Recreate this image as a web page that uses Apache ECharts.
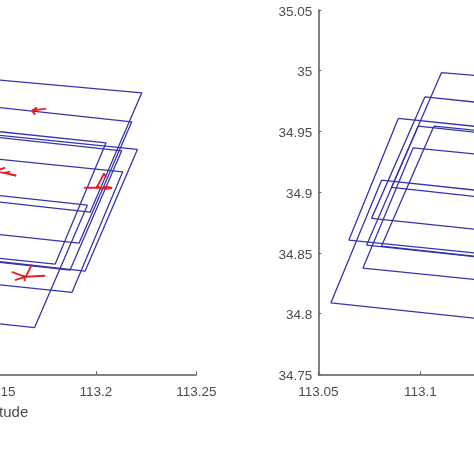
<!DOCTYPE html>
<html>
<head>
<meta charset="utf-8">
<title>frames</title>
<style>
  html, body { margin: 0; padding: 0; background: #fff; }
  #main { width: 474px; height: 474px; }
</style>
<script src="https://cdn.jsdelivr.net/npm/echarts@6/dist/echarts.min.js"></script>
</head>
<body>
<div id="main"></div>
<script>
// frame outlines, [lon, lat], corners in order TL, TR, BR, BL
var frameA = [[113.1104, 34.9985], [113.2229, 34.9818], [113.1972, 34.8836], [113.0859, 34.9039]];
var frameB = [[113.1023, 34.9785], [113.2179, 34.9579], [113.1917, 34.8581], [113.0761, 34.8784]];
var frameC = [[113.0892, 34.9607], [113.2051, 34.9406], [113.1798, 34.8408], [113.0650, 34.8605]];
var frameD = [[113.0990, 34.9544], [113.2129, 34.9340], [113.1872, 34.8358], [113.0737, 34.8564]];
var frameE = [[113.1067, 34.9544], [113.2207, 34.9352], [113.1947, 34.8350], [113.0810, 34.8556]];
var frameF = [[113.0965, 34.9365], [113.2134, 34.9167], [113.1882, 34.8175], [113.0719, 34.8375]];
var frameG = [[113.0810, 34.9099], [113.1958, 34.8893], [113.1695, 34.7884], [113.0562, 34.8089]];
var frames = [frameA, frameB, frameC, frameD, frameE, frameF, frameG];

// red arrows, each entry is one stroke
var arrowsTop = [
  [[113.1753, 34.9688], [113.1683, 34.9671], [113.1698, 34.9638]],
  [[113.1683, 34.9671], [113.1708, 34.9696]]
];
var arrowsMiddle = [
  [[113.1524, 34.9186], [113.1549, 34.9202]],
  [[113.1524, 34.9165], [113.1604, 34.9136]],
  [[113.1539, 34.9157], [113.1574, 34.9169]],
  [[113.1565, 34.9150], [113.1604, 34.9136]]
];
var arrowsRight = [
  [[113.1942, 34.9036], [113.2078, 34.9036]],
  [[113.2003, 34.9031], [113.2041, 34.9154], [113.2051, 34.9121]],
  [[113.2041, 34.9046], [113.2081, 34.9034], [113.2041, 34.9025], [113.2041, 34.9046]],
  [[113.2003, 34.9050], [113.2030, 34.9025]]
];
var arrowsBottom = [
  [[113.1582, 34.8344], [113.1648, 34.8303], [113.1748, 34.8312]],
  [[113.1648, 34.8290], [113.1682, 34.8405]],
  [[113.1598, 34.8276], [113.1648, 34.8303]],
  [[113.1640, 34.8317], [113.1648, 34.8268]]
];
var arrows = arrowsTop.concat(arrowsMiddle, arrowsRight, arrowsBottom);

var lonMin = 113.05, lonMax = 113.25, lonMaxRight = 113.15;
var latMin = 34.75, latMax = 35.05, tickStep = 0.05;

function makeXAxis(index, max, name) {
  return {
    type: 'value', gridIndex: index, min: lonMin, max: max, interval: tickStep,
    name: name, nameLocation: 'middle', nameGap: 31.5,
    nameTextStyle: { color: '#4a4a4a', fontSize: 15, fontFamily: 'Liberation Sans' },
    splitLine: { show: false },
    axisLine: { onZero: false, lineStyle: { color: '#5a5a5a', width: 1.5 } },
    axisTick: { inside: true, length: 3, lineStyle: { color: '#5a5a5a' } },
    axisLabel: { color: '#4d4d4d', fontSize: 13.5, margin: 11, fontFamily: 'Liberation Sans', hideOverlap: false, showMinLabel: true, showMaxLabel: true }
  };
}
function makeYAxis(index) {
  return {
    type: 'value', gridIndex: index, min: latMin, max: latMax, interval: tickStep,
    splitLine: { show: false },
    axisLine: { onZero: false, lineStyle: { color: '#5a5a5a', width: 1.5 } },
    axisTick: { inside: true, length: 3, lineStyle: { color: '#5a5a5a' } },
    axisLabel: {
      margin: 6, showMinLabel: true, showMaxLabel: true,
      formatter: '{lat|{value}}',
      rich: { lat: { color: '#4d4d4d', fontSize: 13.5, fontFamily: 'Liberation Sans', padding: [4, 0, 0, 0] } }
    }
  };
}

var series = [];
[0, 1].forEach(function (panel) {
  frames.forEach(function (frame) {
    series.push({
      type: 'line', xAxisIndex: panel, yAxisIndex: panel, symbol: 'none', silent: true,
      data: frame.concat([frame[0]]),
      lineStyle: { color: '#3434ac', width: 1.3 }
    });
  });
});
arrows.forEach(function (stroke) {
  series.push({
    type: 'line', xAxisIndex: 0, yAxisIndex: 0, symbol: 'none', silent: true,
    data: stroke,
    lineStyle: { color: '#e4202e', width: 1.9 },
    z: 5
  });
});

var chart = echarts.init(document.getElementById('main'));
chart.setOption({
  animation: false,
  backgroundColor: '#fff',
  grid: [
    { left: -205.7, top: 10, width: 402, height: 364.3, outerBoundsMode: 'none' },
    { left: 318.3, top: 10, width: 204, height: 364.3, outerBoundsMode: 'none' }
  ],
  xAxis: [makeXAxis(0, lonMax, 'Longitude'), makeXAxis(1, lonMaxRight, '')],
  yAxis: [makeYAxis(0), makeYAxis(1)],
  series: series
});
</script>
</body>
</html>
